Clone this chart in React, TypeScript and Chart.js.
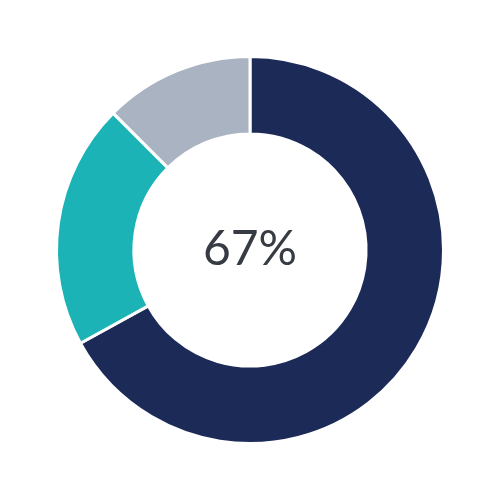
import React, { useEffect, useRef } from "react";
import { Chart, registerables } from "chart.js";

Chart.register(...registerables);

const categories = ["Primary", "Secondary", "Other"];
const values = [67, 20.5, 12.5];
const colors = ["#1c2a58", "#1bb3b5", "#a9b3c1"];
const centerLabel = "67%";

const centerTextPlugin = {
  id: "centerText",
  afterDraw(chart: any) {
    const { ctx, chartArea } = chart;
    const cx = (chartArea.left + chartArea.right) / 2;
    const cy = (chartArea.top + chartArea.bottom) / 2;
    ctx.save();
    ctx.font = "400 48px Lato, 'Open Sans', sans-serif";
    ctx.fillStyle = "#373c44";
    ctx.textAlign = "center";
    ctx.textBaseline = "middle";
    ctx.fillText(centerLabel, cx, cy);
    ctx.restore();
  },
};

export default function App() {
  const ref = useRef<HTMLCanvasElement | null>(null);
  useEffect(() => {
    if (!ref.current) return;
    const chart = new Chart(ref.current, {
      type: "doughnut",
      data: {
        labels: categories,
        datasets: [
          {
            data: values,
            backgroundColor: colors,
            borderColor: "#ffffff",
            borderWidth: 3,
          },
        ],
      },
      options: {
        animation: false,
        responsive: false,
        cutout: "60%",
        layout: { padding: 55 },
        plugins: { legend: { display: false }, tooltip: { enabled: false } },
      },
      plugins: [centerTextPlugin],
    });
    return () => chart.destroy();
  }, []);
  return (
    <div style={{ position: "absolute", left: 0, top: 0, width: 500, height: 500, background: "#fff" }}>
      <canvas ref={ref} width={500} height={500} style={{ width: 500, height: 500 }} />
    </div>
  );
}
